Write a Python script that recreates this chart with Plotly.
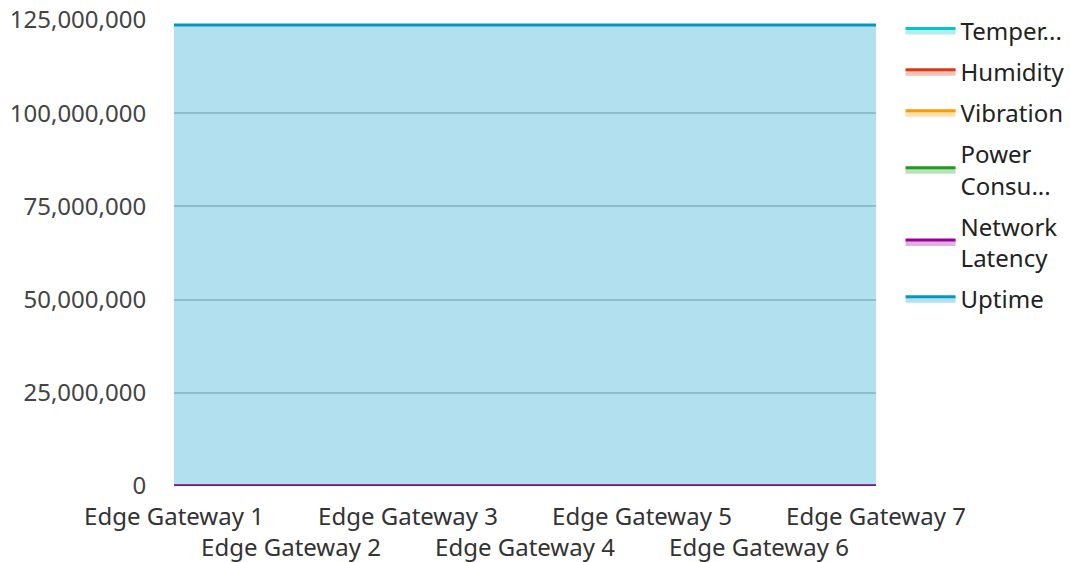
import plotly.graph_objects as go

categories = ["Edge Gateway 1", "Edge Gateway 2", "Edge Gateway 3", "Edge Gateway 4",
              "Edge Gateway 5", "Edge Gateway 6", "Edge Gateway 7"]
temperature = [42.5, 44.1, 41.8, 45.3, 43.2, 46.0, 42.9]
humidity = [55.2, 58.4, 53.9, 60.1, 57.3, 54.8, 59.0]
vibration = [0.42, 0.38, 0.51, 0.45, 0.40, 0.47, 0.44]
power = [185.0, 192.0, 178.0, 201.0, 188.0, 195.0, 183.0]
latency = [18.5, 22.1, 16.8, 25.4, 19.9, 21.3, 17.6]
uptime = [123650000, 123650000, 123650000, 123650000, 123650000, 123650000, 123650000]

series = [
    ("Temper...", temperature, "#00c8c8"),
    ("Humidity", humidity, "#dc3912"),
    ("Vibration", vibration, "#ff9900"),
    ("Power<br>Consu...", power, "#1f9a1f"),
    ("Network<br>Latency", latency, "#990099"),
    ("Uptime", uptime, "#0099c6"),
]

def rgba(h, a):
    h = h.lstrip("#")
    r, g, b = int(h[0:2], 16), int(h[2:4], 16), int(h[4:6], 16)
    return f"rgba({r},{g},{b},{a})"

fig = go.Figure()
for name, vals, col in series:
    fig.add_trace(go.Scatter(
        x=list(range(len(categories))), y=vals, name=name, mode="lines",
        stackgroup="one", line=dict(color=col, width=3), legendgroup=name,
        fillcolor=rgba(col, 0.3),
    ))

ticktext = [c if i % 2 == 0 else "<br>" + c for i, c in enumerate(categories)]

fig.update_layout(
    width=1070, height=562,
    margin=dict(l=174, r=194, t=20, b=76, autoexpand=False),
    paper_bgcolor="white", plot_bgcolor="white",
    font=dict(family="Noto Sans", size=24, color="#444"),
    showlegend=True,
    legend=dict(x=1.035, y=1.025, xanchor="left", yanchor="top",
                traceorder="grouped", font=dict(size=24, color="#222"),
                itemwidth=50, tracegroupgap=7, maxheight=1.0),
    xaxis=dict(tickmode="array", tickvals=list(range(len(categories))),
               ticktext=ticktext, range=[0, len(categories) - 1],
               showgrid=False, zeroline=False, showline=False, automargin=False,
               tickangle=0, ticks="outside", ticklen=9, tickcolor="white",
               tickfont=dict(size=24, color="#333")),
    yaxis=dict(range=[0, 125000000], tickvals=[0, 25000000, 50000000, 75000000, 100000000, 125000000],
               tickformat=",d", showgrid=True, gridcolor="#cccccc", gridwidth=2,
               zeroline=False, showline=False, ticks="outside", ticklen=22, automargin=False,
               tickcolor="white", tickfont=dict(size=24, color="#444")),
)

fig.write_html("out.html")
